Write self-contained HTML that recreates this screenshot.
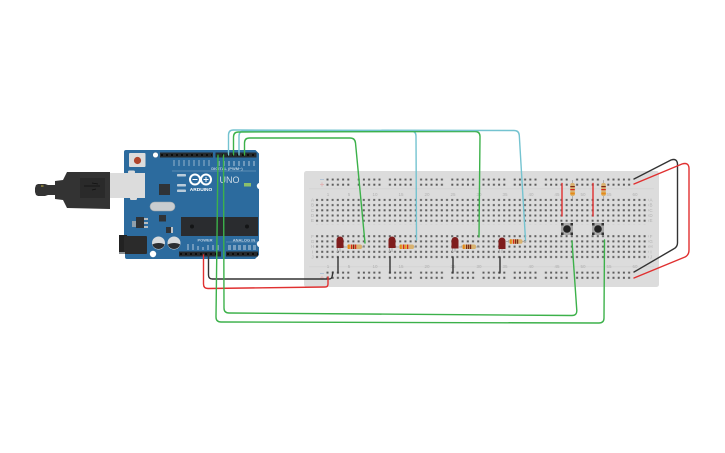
<!DOCTYPE html>
<html><head><meta charset="utf-8"><style>
html,body{margin:0;padding:0;background:#fff;width:725px;height:453px;overflow:hidden}
svg{display:block;filter:blur(0.3px)}
text{font-family:"Liberation Sans",sans-serif}
</style></head><body>
<svg width="725" height="453" viewBox="0 0 725 453" xmlns="http://www.w3.org/2000/svg">
<defs>
<pattern id="main" x="315.8" y="198.7" width="5.2" height="5.2" patternUnits="userSpaceOnUse"><rect x="0.2" y="0.2" width="2" height="2" fill="#5c5c5c"/></pattern>
<pattern id="rail" x="326.3" y="178.3" width="31.2" height="5.2" patternUnits="userSpaceOnUse">
<rect x="0.2" y="0.2" width="2" height="2" fill="#5c5c5c"/><rect x="5.4" y="0.2" width="2" height="2" fill="#5c5c5c"/><rect x="10.6" y="0.2" width="2" height="2" fill="#5c5c5c"/><rect x="15.8" y="0.2" width="2" height="2" fill="#5c5c5c"/><rect x="21" y="0.2" width="2" height="2" fill="#5c5c5c"/>
</pattern>
<pattern id="rail2" x="326.3" y="271.4" width="31.2" height="5.2" patternUnits="userSpaceOnUse">
<rect x="0.2" y="0.2" width="2" height="2" fill="#5c5c5c"/><rect x="5.4" y="0.2" width="2" height="2" fill="#5c5c5c"/><rect x="10.6" y="0.2" width="2" height="2" fill="#5c5c5c"/><rect x="15.8" y="0.2" width="2" height="2" fill="#5c5c5c"/><rect x="21" y="0.2" width="2" height="2" fill="#5c5c5c"/>
</pattern>
<pattern id="main2" x="315.8" y="235" width="5.2" height="5.2" patternUnits="userSpaceOnUse"><rect x="0.2" y="0.2" width="2" height="2" fill="#5c5c5c"/></pattern>
</defs>

<!-- Breadboard -->
<rect x="304" y="171" width="355" height="116" rx="2.5" fill="#dcdcdc"/>
<rect x="309" y="188.5" width="345" height="0.7" fill="#cfcfcf"/>
<rect x="309" y="266.5" width="345" height="0.7" fill="#cfcfcf"/>
<rect x="326" y="178.3" width="310" height="10" fill="url(#rail)"/>
<rect x="326" y="271.4" width="310" height="10" fill="url(#rail2)"/>
<rect x="315.8" y="198.7" width="333" height="26" fill="url(#main)"/>
<rect x="315.8" y="235" width="333" height="26" fill="url(#main2)"/>
<g font-size="4.5" fill="#b0b0b0" text-anchor="middle">
<text x="328" y="196">1</text><text x="349" y="196">5</text><text x="375" y="196">10</text><text x="401" y="196">15</text><text x="427" y="196">20</text><text x="453" y="196">25</text><text x="479" y="196">30</text><text x="505" y="196">35</text><text x="531" y="196">40</text><text x="557" y="196">45</text><text x="583" y="196">50</text><text x="609" y="196">55</text><text x="635" y="196">60</text>
<text x="328" y="268">1</text><text x="349" y="268">5</text><text x="375" y="268">10</text><text x="401" y="268">15</text><text x="427" y="268">20</text><text x="453" y="268">25</text><text x="479" y="268">30</text><text x="505" y="268">35</text><text x="531" y="268">40</text><text x="557" y="268">45</text><text x="583" y="268">50</text><text x="609" y="268">55</text><text x="635" y="268">60</text>
<text x="312.5" y="201.5">A</text><text x="312.5" y="206.5">B</text><text x="312.5" y="212">C</text><text x="312.5" y="217">D</text><text x="312.5" y="222">E</text>
<text x="312.5" y="238">F</text><text x="312.5" y="243">G</text><text x="312.5" y="248">H</text><text x="312.5" y="253.5">I</text><text x="312.5" y="258.5">J</text>
<text x="651" y="201.5">A</text><text x="651" y="206.5">B</text><text x="651" y="212">C</text><text x="651" y="217">D</text><text x="651" y="222">E</text>
<text x="651" y="238">F</text><text x="651" y="243">G</text><text x="651" y="248">H</text><text x="651" y="253.5">I</text><text x="651" y="258.5">J</text>
</g>
<g stroke-width="0.8" opacity="0.7">
<path d="M320 179.5h4M320 273.5h4" stroke="#8fb0d0"/>
<path d="M320 184.5h4M322 182.5v4M320 278h4M322 276v4" stroke="#e49a9a"/>
</g>

<!-- Arduino -->
<path d="M124 152a2 2 0 0 1 2-2H255.500l3.500 3.500V255l-4 4H127a2 2 0 0 1-2-2v-8l-1-3V152z" fill="#2c6b9e"/>
<circle cx="155.500" cy="155" r="2.800" fill="#fff" stroke="#1d4a70" stroke-width="0.4"/>
<circle cx="260" cy="186" r="3.200" fill="#fff"/>
<circle cx="260" cy="244" r="3.200" fill="#fff"/>
<circle cx="153" cy="254" r="3.200" fill="#fff"/>
<!-- headers -->
<rect x="160" y="152.500" width="53" height="5" fill="#262a2d"/>
<rect x="215.500" y="152.500" width="41" height="5" fill="#262a2d"/>
<rect x="179" y="251.500" width="42" height="5" fill="#262a2d"/>
<rect x="226" y="251.500" width="32" height="5" fill="#262a2d"/>
<g fill="none" stroke="#0c0c0c" stroke-width="2" stroke-dasharray="2 3">
<path d="M161 155h51M217 155h39M180 254h40M227 254h31"/>
</g>
<!-- reset -->
<rect x="129" y="153" width="16.500" height="14" rx="1" fill="#dcdcdc"/>
<circle cx="137.500" cy="160.500" r="3.600" fill="#b0452c"/>
<!-- USB -->
<rect x="110" y="173" width="35" height="25" fill="#dcdcdc"/>
<rect x="128" y="170.500" width="7" height="3" rx="1.400" fill="#dcdcdc"/>
<rect x="130" y="197" width="7" height="3" rx="1.400" fill="#dcdcdc"/>
<path d="M110 172H67l-4 8-8 1v4h-7l-3-1h-7l-2 1-1 3v4l1 3 2 1h7l3-1h7v4l8 1 4 8 43 1z" fill="#333333"/>
<rect x="80" y="178" width="25" height="20" fill="#2a2a2a"/>
<path d="M84 186h16M92 183l6 1M92 190l4-1" stroke="#111" stroke-width="0.8" fill="none"/>
<rect x="41" y="185.500" width="2.500" height="1" fill="#c9b23a"/>
<!-- chips/parts -->
<rect x="159" y="184" width="11" height="11" fill="#2f3337"/>
<rect x="159" y="215" width="7" height="6.500" fill="#2f3337"/>
<rect x="150" y="202" width="25" height="9" rx="4.500" fill="#c9cdd0" stroke="#9aa3a8" stroke-width="0.6"/>
<rect x="136" y="217" width="8" height="11" fill="#2f3337"/>
<rect x="132" y="221" width="4" height="6" fill="#8fa0ad"/>
<path d="M144 218h4v2h-4zM144 222h4v2h-4zM144 226h4v2h-4z" fill="#b6bcc0"/>
<rect x="166" y="227" width="5" height="6" fill="#2f3337"/>
<rect x="171" y="227" width="2" height="6" fill="#c0c4c8"/>
<rect x="181" y="217" width="77" height="19" fill="#2a2c2f"/>
<circle cx="192" cy="226.500" r="2" fill="#141516"/><circle cx="247" cy="226.500" r="2" fill="#141516"/>
<!-- barrel jack -->
<rect x="119" y="235" width="8" height="18" fill="#222"/>
<rect x="124" y="236" width="23" height="18" rx="1" fill="#2b2b2b"/>
<rect x="119" y="252" width="6" height="2" fill="#8a8f93"/>
<!-- caps -->
<circle cx="158.500" cy="243" r="6.500" fill="#d7dadc"/><path d="M152.300 244.500a6.500 6.500 0 0 0 12.400 0c-3-2-9-2-12.400 0z" fill="#2c2f32"/>
<circle cx="174" cy="243" r="6.500" fill="#d7dadc"/><path d="M167.800 244.500a6.500 6.500 0 0 0 12.400 0c-3-2-9-2-12.400 0z" fill="#2c2f32"/>
<!-- LEDs on board -->
<g fill="#dfe5e8">
<rect x="177" y="174" width="9" height="2.500" rx="0.800" opacity=".8"/>
<rect x="177" y="184" width="9" height="2.500" rx="0.800" opacity=".8"/>
<rect x="177" y="189.500" width="9" height="2.500" rx="0.800" opacity=".8"/>
</g>
<rect x="244" y="183" width="7" height="3.500" fill="#8cc06a"/>
<!-- logo -->
<g fill="none" stroke="#fff" stroke-width="2">
<circle cx="195" cy="179.500" r="5"/><circle cx="206" cy="179.500" r="5"/>
</g>
<path d="M192.500 179.500h5M203.500 179.500h5M206 177v5" stroke="#fff" stroke-width="1"/>
<text x="201" y="191" font-size="4.800" font-weight="bold" fill="#fff" text-anchor="middle">ARDUINO</text>
<text x="229.500" y="183" font-size="9" fill="#cfdce6" text-anchor="middle">UNO</text>
<text x="227" y="170" font-size="4" font-weight="bold" fill="#d4e0ea" text-anchor="middle" opacity=".85">DIGITAL (PWM~)</text>
<path d="M172 171H256" stroke="#b8cddd" stroke-width="0.5" opacity=".7"/>
<text x="205" y="241.500" font-size="4" font-weight="bold" fill="#d4e0ea" text-anchor="middle" opacity=".85">POWER</text>
<text x="244" y="241.500" font-size="4" font-weight="bold" fill="#d4e0ea" text-anchor="middle" opacity=".85">ANALOG IN</text>
<path d="M226 242H258" stroke="#b8cddd" stroke-width="0.4" opacity=".7"/>
<g fill="#c2d3e0">
<path d="M173 160h2v6h-2zM178 160h2v6h-2zM183 160h2v6h-2zM188 160h2v6h-2zM193 160h2v6h-2zM198 160h2v6h-2zM203 160h2v6h-2zM208 160h2v6h-2z" opacity=".35"/>
<path d="M218 161h2v5h-2zM223 161h2v5h-2zM228 161h2v5h-2zM233 161h2v5h-2zM238 161h2v5h-2zM243 161h2v5h-2zM248 161h2v5h-2zM253 161h2v5h-2z" opacity=".45"/>
<path d="M187 244h2v6h-2zM192 244h2v6h-2zM197 246h2v4h-2zM202 247h2v3h-2zM207 245h2v5h-2zM212 245h2v5h-2zM217 245h2v5h-2z" opacity=".45"/>
<path d="M228 245h3v5h-3zM233 245h3v5h-3zM238 245h3v5h-3zM243 245h3v5h-3zM248 245h3v5h-3zM253 245h3v5h-3z" opacity=".5"/>
</g>

<!-- resistors & LEDs breadboard -->
<g id="parts">
<path d="M343 247h22M396 247h21M459 247h21M506 241.500h20" stroke="#a9a9a9" stroke-width="0.9"/>
<path d="M340 247v5M337.500 247v5M392 247v5M389.500 247v5M455 247v5M452.500 247v5M502 248v5M499.500 248v5" stroke="#a9a9a9" stroke-width="0.9"/>
<g fill="#7f1d1d">
<path d="M336.500 248v-8a3.500 3.500 0 0 1 7 0v8z"/>
<path d="M388.500 248v-8a3.500 3.500 0 0 1 7 0v8z"/>
<path d="M451.500 248.500v-8a3.500 3.500 0 0 1 7 0v8z"/>
<path d="M498.500 249v-8a3.500 3.500 0 0 1 7 0v8z"/>
</g>
<g>
<rect x="347" y="244.500" width="15" height="4.500" rx="1.800" fill="#d9b270"/>
<rect x="348" y="244.500" width="1.700" height="4.500" fill="#e58a17"/><rect x="351" y="244.500" width="1.300" height="4.500" fill="#d8261c"/><rect x="353" y="244.500" width="1.300" height="4.500" fill="#7a2a14"/><rect x="355" y="244.500" width="1.200" height="4.500" fill="#d8261c"/>
<rect x="399" y="244.500" width="15" height="4.500" rx="1.800" fill="#d9b270"/>
<rect x="400" y="244.500" width="1.700" height="4.500" fill="#e58a17"/><rect x="403" y="244.500" width="1.300" height="4.500" fill="#d8261c"/><rect x="405" y="244.500" width="1.300" height="4.500" fill="#e5a017"/><rect x="407" y="244.500" width="1.200" height="4.500" fill="#d8261c"/>
<rect x="462" y="244.500" width="14" height="4.500" rx="1.800" fill="#d9b270"/>
<rect x="463" y="244.500" width="1.700" height="4.500" fill="#e58a17"/><rect x="466" y="244.500" width="1.300" height="4.500" fill="#7a2a14"/><rect x="468" y="244.500" width="1.300" height="4.500" fill="#7a2a14"/><rect x="470" y="244.500" width="1.200" height="4.500" fill="#7a2a14"/>
<rect x="509" y="239.300" width="13.500" height="4.500" rx="1.800" fill="#d9b270"/>
<rect x="510" y="239.300" width="1.700" height="4.500" fill="#e58a17"/><rect x="513" y="239.300" width="1.300" height="4.500" fill="#d8261c"/><rect x="515" y="239.300" width="1.300" height="4.500" fill="#7a2a14"/><rect x="517" y="239.300" width="1.200" height="4.500" fill="#7a2a14"/>
</g>
<!-- vertical resistors -->
<path d="M572.500 180v19M603.500 180v19" stroke="#a9a9a9" stroke-width="0.9"/>
<rect x="570.300" y="183" width="4.500" height="13" rx="1.800" fill="#d9b270"/>
<rect x="570.300" y="186" width="4.500" height="1.200" fill="#7a2a14"/><rect x="570.300" y="189" width="4.500" height="1.200" fill="#d8261c"/><rect x="570.300" y="192.500" width="4.500" height="2" fill="#e58a17"/>
<rect x="601.300" y="183" width="4.500" height="13" rx="1.800" fill="#d9b270"/>
<rect x="601.300" y="186" width="4.500" height="1.200" fill="#7a2a14"/><rect x="601.300" y="189" width="4.500" height="1.200" fill="#d8261c"/><rect x="601.300" y="192.500" width="4.500" height="2" fill="#e58a17"/>
<!-- buttons -->
<g>
<rect x="561" y="223" width="12" height="12" fill="#a9a9a9"/>
<path d="M561 223h2.500v2.500H561zM570.500 223h2.500v2.500h-2.500zM561 232.500h2.500v2.500H561zM570.500 232.500h2.500v2.500h-2.500z" fill="#333"/>
<circle cx="567" cy="229" r="3.800" fill="#222"/>
<rect x="592" y="223" width="12" height="12" fill="#a9a9a9"/>
<path d="M592 223h2.500v2.500H592zM601.500 223h2.500v2.500h-2.500zM592 232.500h2.500v2.500H592zM601.500 232.500h2.500v2.500h-2.500z" fill="#333"/>
<circle cx="598" cy="229" r="3.800" fill="#222"/>
</g>
</g>

<!-- Wires -->
<g fill="none" stroke-linecap="round" stroke-linejoin="round" stroke-width="1.400">
<!-- short red -->
<path d="M562 183.500V216M593 183.500V216" stroke="#e03030"/>
<!-- short black -->
<path d="M338 257V273M390 257V273M453 257V273M500 257V273" stroke="#333"/>
<!-- power -->
<path d="M208.500 255V275q0 4 4 4H329q3 0 3.200-3L333 272" stroke="#333"/>
<path d="M203.500 255V284q0 4.500 4.500 4.500L325 287q3 0 3-3V277" stroke="#e03030"/>
<!-- rails -->
<path d="M634 179L671 160q6-2 6.500 4V243q0 4-4 6L634 272" stroke="#333"/>
<path d="M634 184L682 164q6.500-2 7 4V250q0 5-4 7L634 278" stroke="#e03030"/>
<!-- bottom green -->
<path d="M218 155L216 317q0 5 5 5L599 323q5 0 5-5L604.500 240" stroke="#3cb14a"/>
<path d="M223.500 155L224 308q0 5 5 5L572 315.500q5 0 4.800-5L572 241" stroke="#3cb14a"/>
<!-- top wires -->
<path d="M244.500 155V143q0-5 5-5L350 138q5 0 5.500 5L365 243" stroke="#3cb14a"/>
<path d="M239 155V136q0-5 5-5L411 131q5 0 5 5L416.500 240" stroke="#74c3d0"/>
<path d="M233.500 155V137q0-5 5-5L475 131.500q5 0 5 5L479 237" stroke="#3cb14a"/>
<path d="M228.500 155V135q0-5 5-5L514 130.500q5 0 5.300 5L525.500 240" stroke="#74c3d0"/>
</g>
</svg>
</body></html>
